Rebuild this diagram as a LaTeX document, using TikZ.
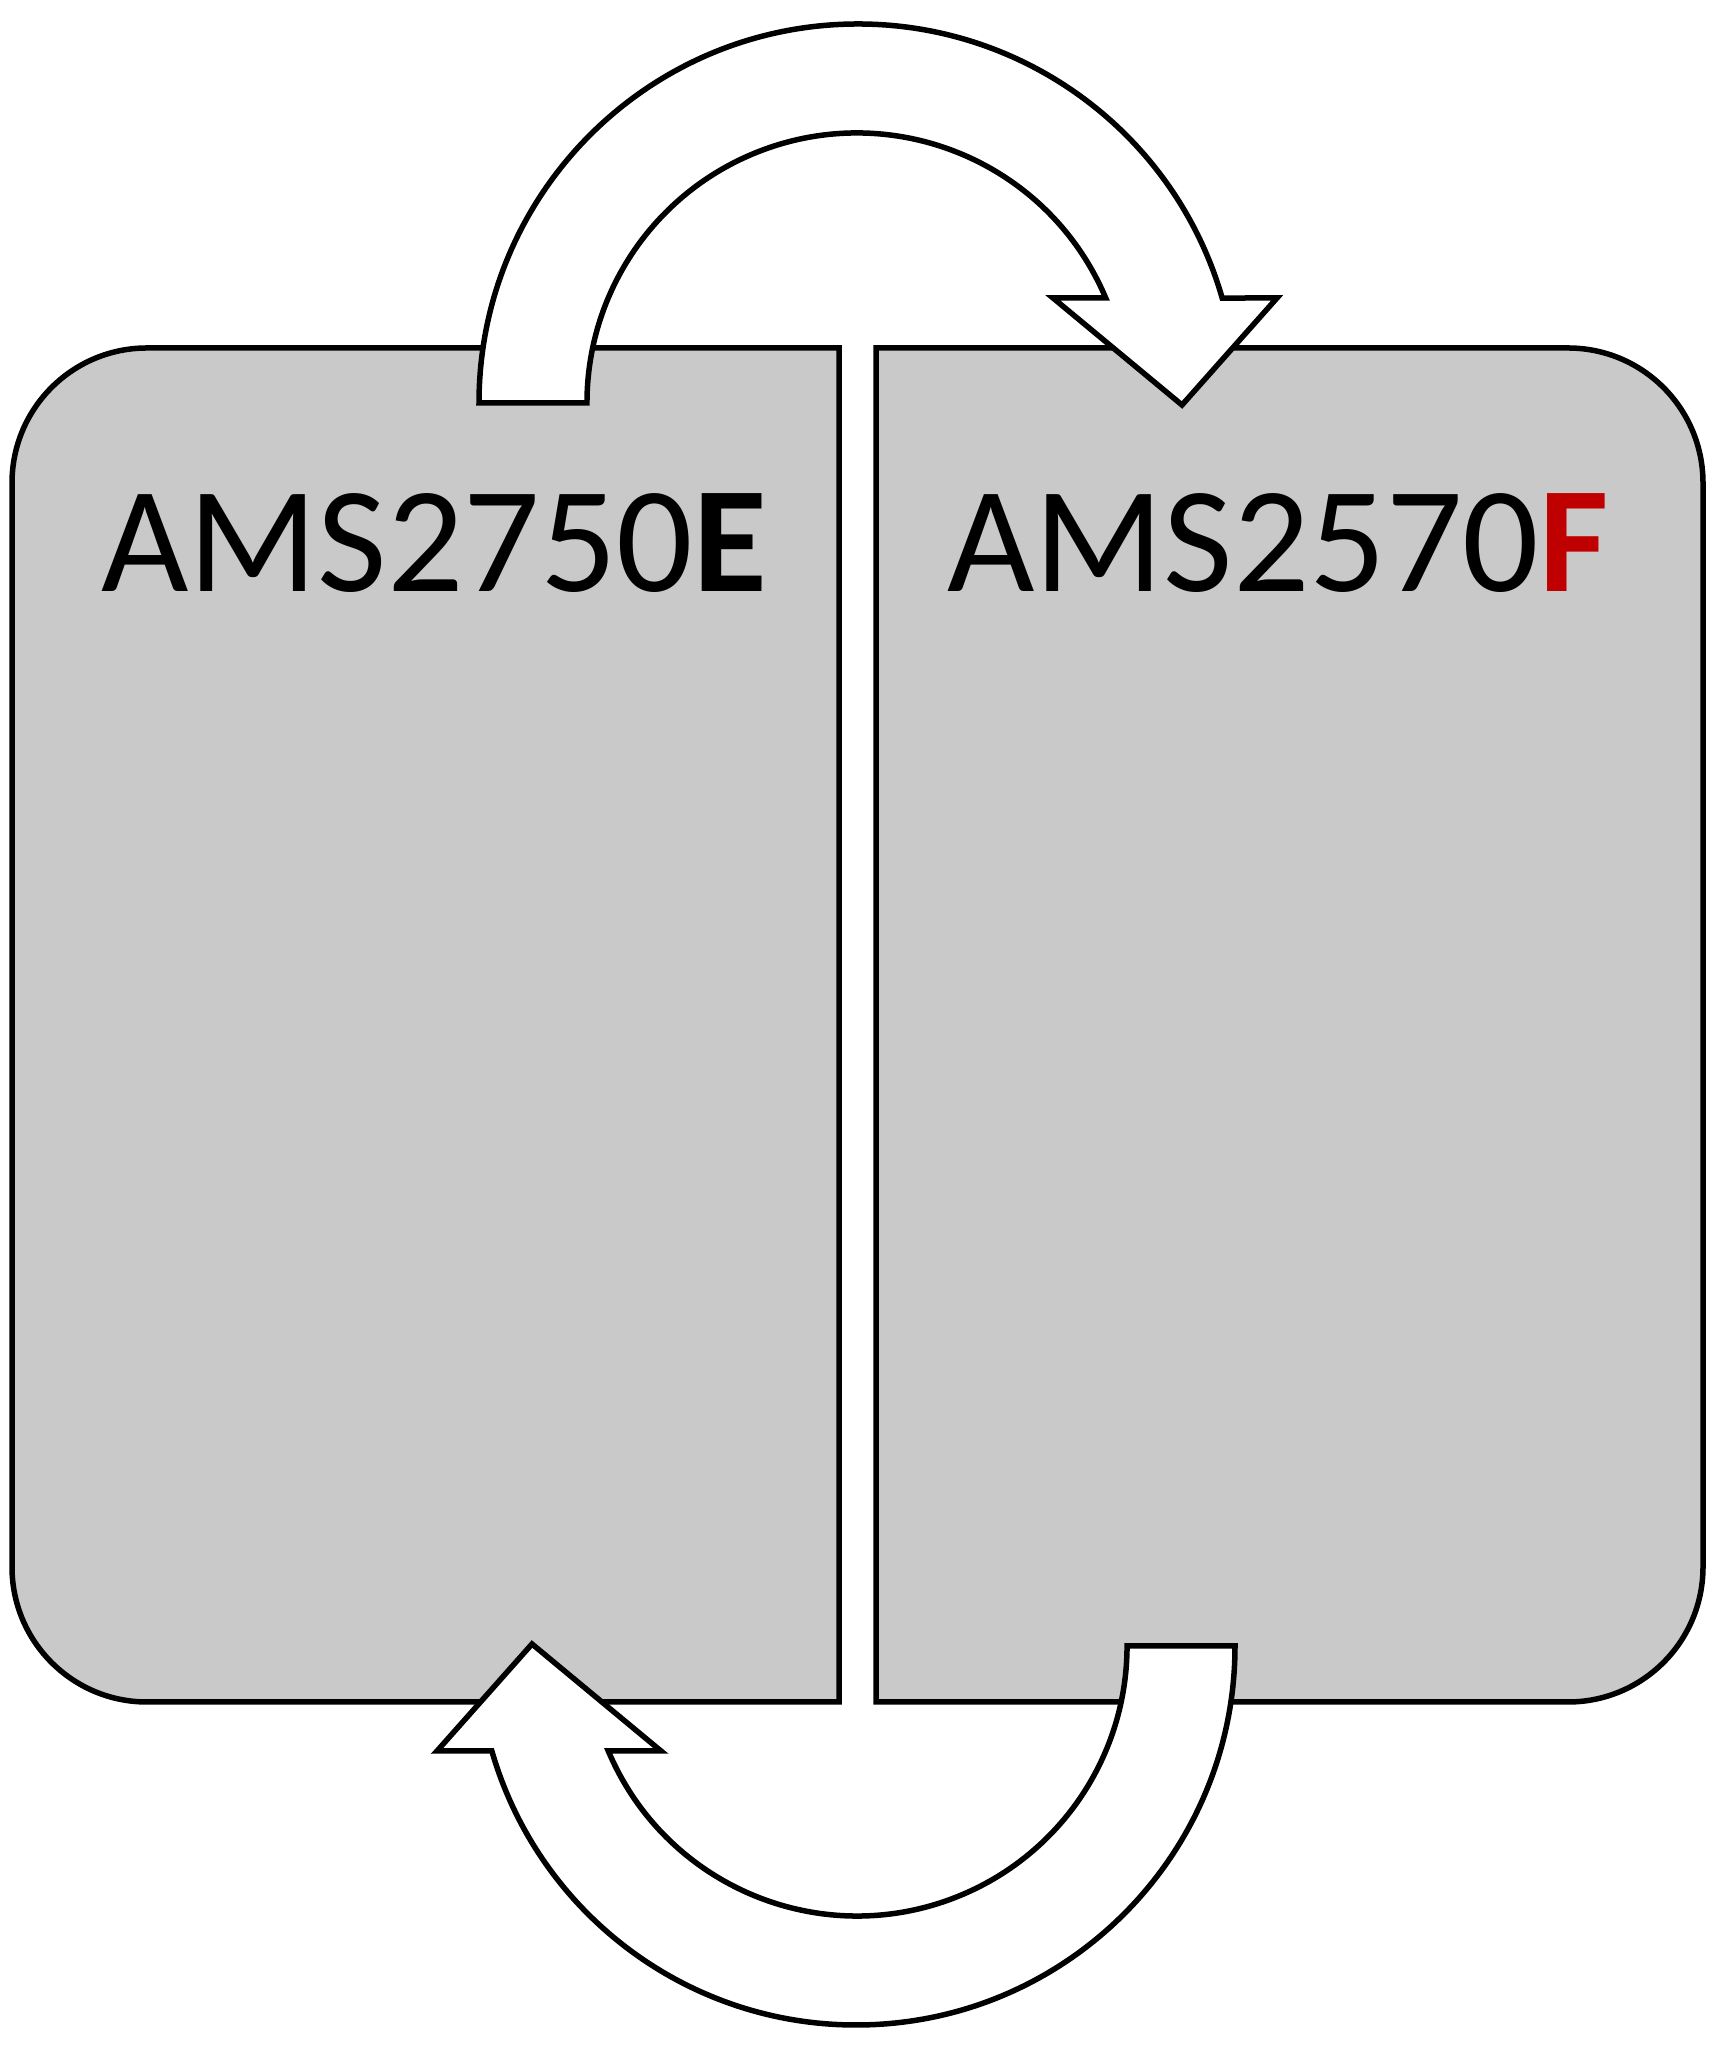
\documentclass[tikz,border=0pt]{standalone}
\usepackage{fontspec}
\setmainfont{Carlito}
\definecolor{boxgray}{RGB}{201,201,201}
\definecolor{darkred}{RGB}{192,0,0}
\tikzset{
  panel/.style={draw=black, line width=5.5pt, fill=boxgray, line join=miter},
  bentarrow/.style={draw=black, line width=5.5pt, fill=white, line join=miter},
  label/.style={inner sep=0pt, anchor=base west, font=\fontsize{151}{158}\selectfont}
}
\begin{document}
\begin{tikzpicture}[x=1pt,y=1pt]
\useasboundingbox (0,0) rectangle (1713,2048);
% left panel (rounded on the left)
\draw[panel] (839,1700) -- (147,1700) arc[start angle=90,end angle=180,radius=135]
  -- (12,481) arc[start angle=180,end angle=270,radius=135] -- (839,346) -- cycle;
% right panel (rounded on the right)
\draw[panel] (876,1700) -- (1568,1700) arc[start angle=90,end angle=0,radius=135]
  -- (1703,481) arc[start angle=0,end angle=-90,radius=135] -- (876,346) -- cycle;
% texts
\node[label] (left) at (101,1456) {AMS2750\textbf{E}};
\node[label] (right) at (947,1456) {AMS2570{\color{darkred}\textbf{F}}};
% top curved arrow
\draw[bentarrow] (479,1645) arc[start angle=180,end angle=16.08,radius=379]
  -- (1277,1750) -- (1182,1643) -- (1053,1750) -- (1105.7,1750)
  arc[start angle=22.89,end angle=180,radius=270] -- cycle;
% bottom curved arrow (same shape turned half round)
\begin{scope}[rotate around={180:(857,1023.5)}]
\draw[bentarrow] (479,1645) arc[start angle=180,end angle=16.08,radius=379]
  -- (1277,1750) -- (1182,1643) -- (1053,1750) -- (1105.7,1750)
  arc[start angle=22.89,end angle=180,radius=270] -- cycle;
\end{scope}
\end{tikzpicture}
\end{document}
